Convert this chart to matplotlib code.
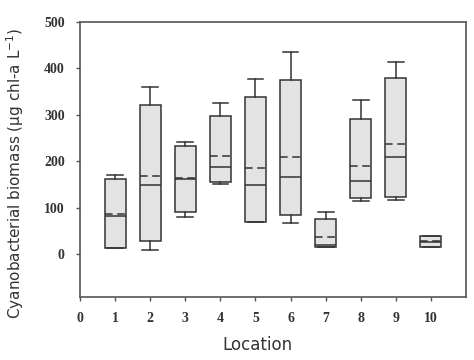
import matplotlib
matplotlib.use("Agg")
import matplotlib.pyplot as plt

locations = [1, 2, 3, 4, 5, 6, 7, 8, 9, 10]
whisker_low = [13, 9, 81, 152, 70, 68, 16, 115, 117, 16]
q1 = [13, 29, 92, 155, 70, 85, 16, 122, 123, 16]
medians = [83, 150, 163, 187, 150, 167, 19, 157, 210, 27]
means = [86, 168, 164, 212, 186, 209, 38, 191, 238, 29]
q3 = [162, 322, 232, 297, 338, 376, 75, 291, 379, 39]
whisker_high = [170, 359, 242, 325, 377, 436, 92, 333, 413, 39]

xticks = list(range(0, 11))
yticks = [0, 100, 200, 300, 400, 500]

stats = []
for i in range(len(locations)):
    stats.append(dict(whislo=whisker_low[i], q1=q1[i], med=medians[i],
                      mean=means[i], q3=q3[i], whishi=whisker_high[i], fliers=[]))

fig = plt.figure(figsize=(4.74, 3.6), dpi=100)
ax = fig.add_axes([0.169, 0.175, 0.814, 0.764])

lc = "#333333"
ax.bxp(stats, positions=locations, widths=0.6, patch_artist=True,
       showmeans=True, meanline=True, showfliers=False,
       boxprops=dict(facecolor="#e3e3e3", edgecolor=lc, linewidth=1.1),
       medianprops=dict(color=lc, linewidth=1.1),
       meanprops=dict(color=lc, linewidth=1.1, linestyle=(0, (5, 3))),
       whiskerprops=dict(color=lc, linewidth=1.1),
       capprops=dict(color=lc, linewidth=1.1),
       capwidths=0.45)

ax.set_xlim(0, 11)
ax.set_ylim(-92, 500)
ax.set_xticks(xticks)
ax.set_xticklabels([str(t) for t in xticks], family="Liberation Serif",
                   fontsize=10, fontweight="bold", color="#333333")
ax.set_yticks(yticks)
ax.set_yticklabels([str(t) for t in yticks], family="Liberation Serif",
                   fontsize=10, fontweight="bold", color="#333333")
ax.tick_params(direction="out", length=3, width=1, color="#555555", pad=8)

for s in ax.spines.values():
    s.set_color("#555555")
    s.set_linewidth(1.2)

ax.set_xlabel("Location", fontsize=12, color="#333333", family="DejaVu Sans")
ax.xaxis.set_label_coords(0.46, -0.14)
ax.set_ylabel("Cyanobacterial biomass (μg chl-a L$^{-1}$)", fontsize=11,
              color="#333333", family="DejaVu Sans")
ax.yaxis.set_label_coords(-0.14, 0.45)

fig.savefig("out.png", dpi=100)
